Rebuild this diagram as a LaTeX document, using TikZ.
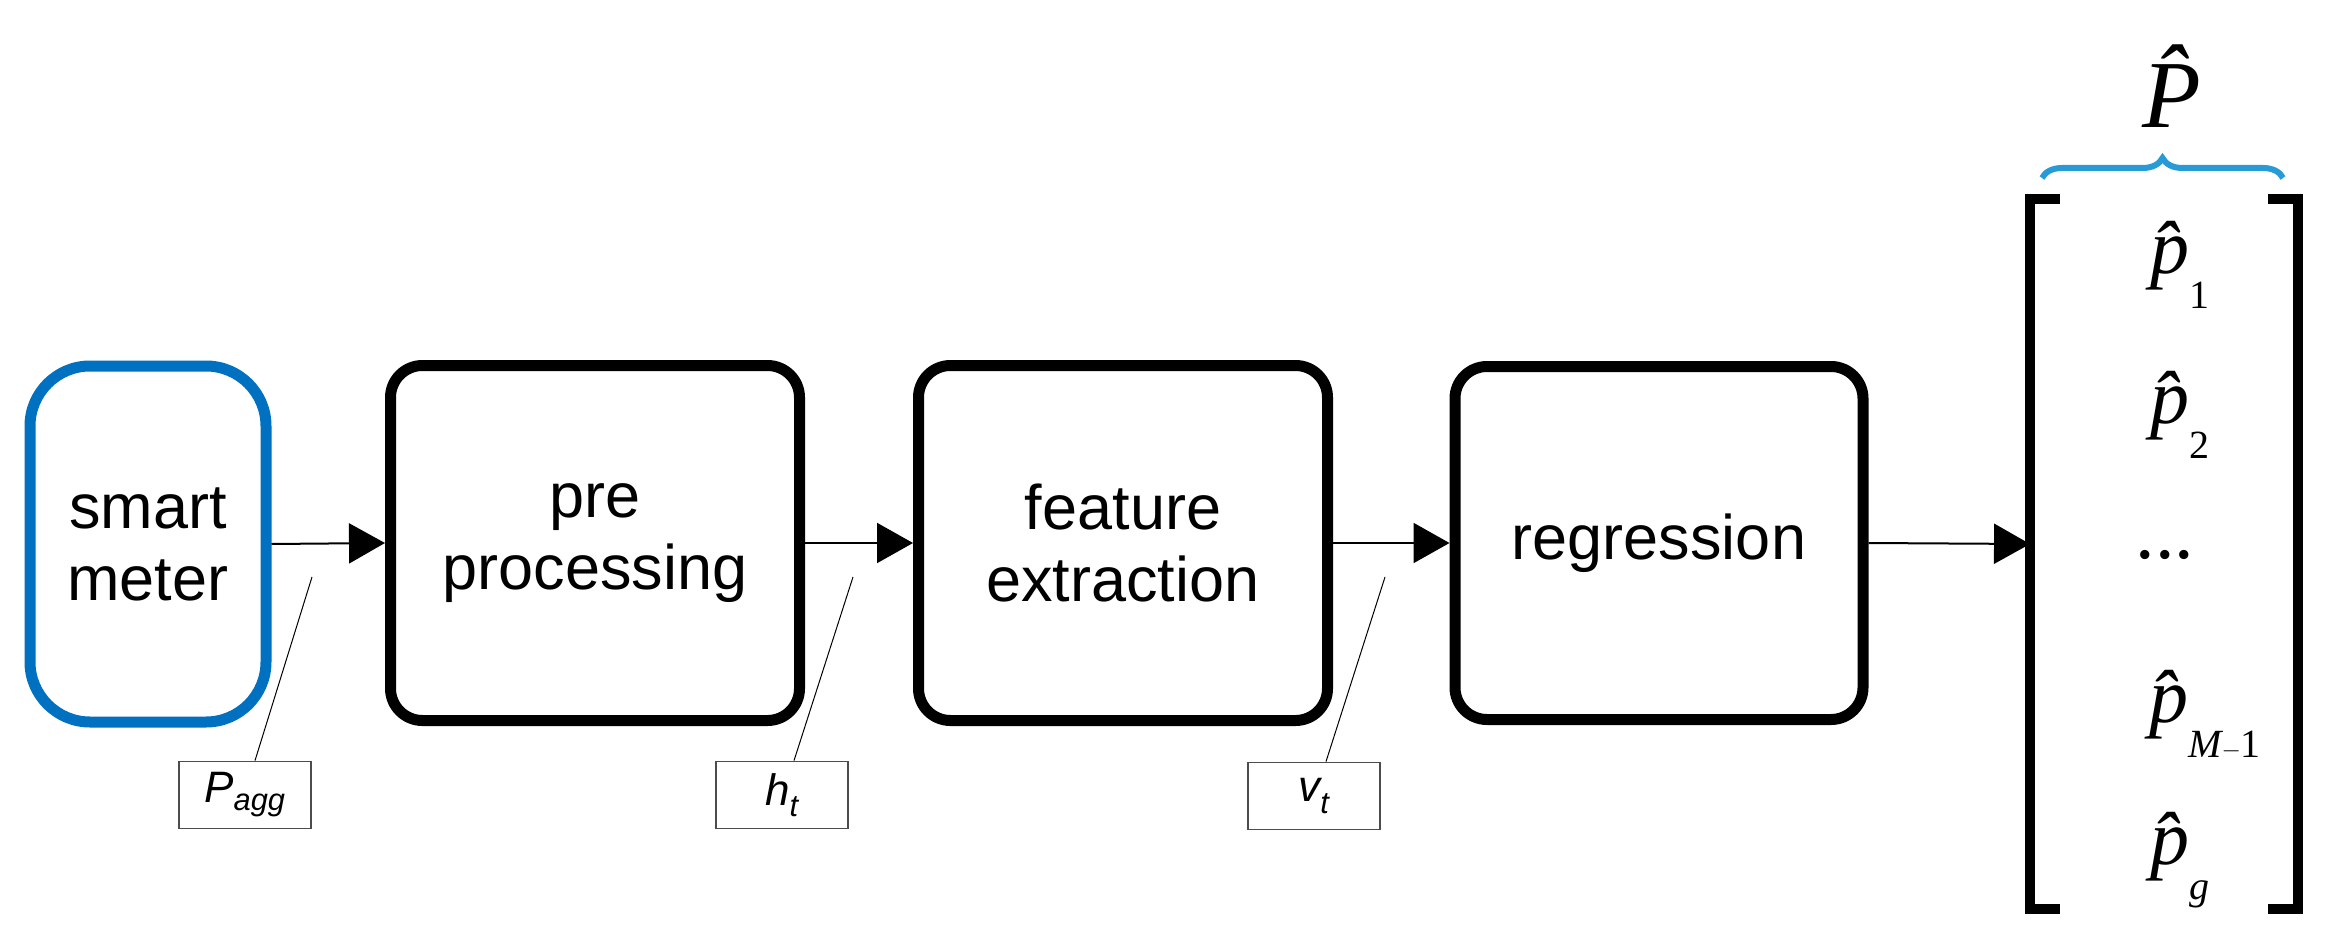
\documentclass[tikz,border=0pt]{standalone}
\usepackage{fontspec}
\setmainfont{Liberation Sans}
\newfontfamily\serifm{Liberation Serif}
\usetikzlibrary{arrows.meta,decorations.pathreplacing}
\definecolor{smblue}{RGB}{0,112,192}
\definecolor{brblue}{RGB}{40,155,215}
\begin{document}
\begin{tikzpicture}[x=1pt,y=-1pt,
 blk/.style={draw,line width=11pt,rounded corners=32pt,align=center,font=\fontsize{63}{72}\selectfont,inner sep=0pt},
 arr/.style={line width=2pt,-{Triangle[length=36pt,width=40pt]}},
 lab/.style={draw=black!70,line width=1.8pt,minimum width=132pt,minimum height=67pt,inner sep=0pt,font=\fontsize{44}{50}\selectfont\itshape},
 lead/.style={line width=1pt},
 ent/.style={font=\serifm\fontsize{78}{80}\selectfont,inner sep=0pt}]
\useasboundingbox (0,0) rectangle (2328,944);
\node[blk,draw=smblue,rounded corners=60pt,minimum width=236pt,minimum height=356pt] (sm) at (148,544) {smart\\meter};
\node[blk,minimum width=409pt,minimum height=355pt] (pre) at (595,543) {pre\\processing};
\node[blk,minimum width=409pt,minimum height=355pt] (fe) at (1123,543) {feature\\extraction};
\node[blk,minimum width=408pt,minimum height=353pt] (reg) at (1659,543) {regression};
\coordinate (vin) at (2030,544);
\draw[line width=10pt] (2060,199) -- (2030,199) -- (2030,909) -- (2060,909);
\draw[line width=10pt] (2268,199) -- (2298,199) -- (2298,909) -- (2268,909);
\draw[arr] (sm.east) -- (pre.west);
\draw[arr] (pre.east) -- (fe.west);
\draw[arr] (fe.east) -- (reg.west);
\draw[arr] (reg.east) -- (vin);
\node[lab] (pa) at (245,795) {P\textsubscript{agg}};
\node[lab] (ht) at (782,795) {h\textsubscript{t}};
\node[lab] (vt) at (1314,796) {v\textsubscript{t}};
\coordinate (c1) at (312,577);
\coordinate (c2) at (853,577);
\coordinate (c3) at (1385,577);
\draw[lead] (c1) -- ([xshift=10pt]pa.north);
\draw[lead] (c2) -- ([xshift=12pt]ht.north);
\draw[lead] (c3) -- ([xshift=12pt]vt.north);
\node[ent] (p1) at (2180,265) {\itshape\^{p}\raisebox{-0.45em}{\fontsize{40}{40}\selectfont\upshape 1}};
\node[ent] (p2) at (2180,415) {\itshape\^{p}\raisebox{-0.45em}{\fontsize{40}{40}\selectfont\upshape 2}};
\node[ent] (pd) at (2165,555) {...};
\node[ent] (pm) at (2205,715) {\itshape\^{p}\raisebox{-0.45em}{\fontsize{40}{40}\selectfont\itshape M$-$\upshape 1}};
\node[ent] (pg) at (2180,860) {\itshape\^{p}\raisebox{-0.45em}{\fontsize{40}{40}\selectfont\itshape g}};
\draw[brblue,line width=6pt,decoration={brace,amplitude=20pt},decorate] (2042,178) -- (2283,178);
\node[font=\serifm\fontsize{96}{96}\selectfont\itshape,inner sep=0pt] (P) at (2172,86) {\^{P}};
\end{tikzpicture}
\end{document}
